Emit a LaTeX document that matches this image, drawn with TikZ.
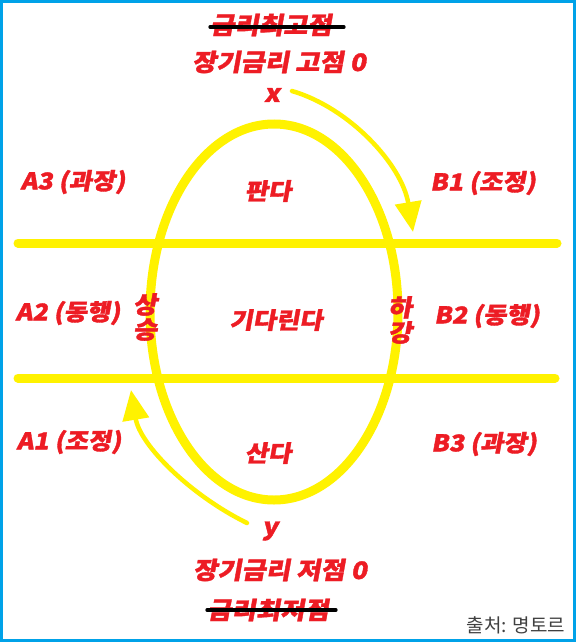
\documentclass[tikz,border=0pt]{standalone}
\usepackage{fontspec}
\usepackage{tikz}
\usetikzlibrary{arrows.meta}
\newfontfamily\krfont[FakeSlant=0.18,FakeStretch=1.1,FakeBold=1.5]{Noto Sans CJK KR Black}
\newfontfamily\srcfont{Noto Sans CJK KR}
\definecolor{penred}{RGB}{237,28,36}
\definecolor{marker}{RGB}{255,242,0}
\definecolor{frameblue}{RGB}{0,162,232}
\tikzset{
	lbl/.style={text=penred, font=\krfont\fontsize{23}{25}\selectfont, inner sep=0pt},
	big/.style={lbl, font=\krfont\fontsize{24}{26}\selectfont},
	hl/.style={draw=marker, line width=9pt, line cap=round},
	flow/.style={draw=marker, line width=4.5pt, line cap=round, -{Triangle[length=30pt,width=26pt]}},
	strike/.style={draw=black, line width=3.5pt, line cap=round}
}

\begin{document}
\begin{tikzpicture}[x=1pt, y=-1pt]
			\fill[white] (0,0) rectangle (576,642);
			\useasboundingbox (0,0) rectangle (576,642);
			\draw[frameblue, line width=3pt] (1.5,1.5) rectangle (574.5,640.5);
			\draw[hl] (274,312) ellipse (124 and 188);
			\draw[hl] (18,243) -- (557,243);
			\draw[hl] (18,378) -- (555,378);
			\node[big] (maxtop) at (271,25) {금리최고점};
			\node[big] (longtop) at (279,62) {장기금리 고점 0};
			\node[big] (xpt) at (272,95) {x};
			\node[big] (longbot) at (280,570) {장기금리 저점 0};
			\node[big] (ypt) at (270,531) {y};
			\node[big] (minbot) at (268,610) {금리최저점};
			\draw[strike] ([xshift=0pt, yshift=-2pt]maxtop.west) -- ([xshift=12pt, yshift=-2pt]maxtop.east);
			\draw[strike] ([xshift=0pt]minbot.west) -- ([xshift=7pt]minbot.east);
			\node[lbl] (a3) at (73,182) {A3 (과장)};
			\node[lbl] (a2) at (68,313) {A2 (동행)};
			\node[lbl] (a1) at (69,442) {A1 (조정)};
			\node[lbl] (b1) at (483,183) {B1 (조정)};
			\node[lbl] (b2) at (487,316) {B2 (동행)};
			\node[lbl] (b3) at (484,444) {B3 (과장)};
			\node[lbl] (sell) at (268,191) {판다};
			\node[lbl] (wait) at (276,320) {기다린다};
			\node[lbl] (buy) at (268,453) {산다};
			\node[lbl, align=center, font=\krfont\fontsize{24}{25}\selectfont] (rise) at (145,317) {상\\승};
			\node[lbl, align=center, font=\krfont\fontsize{24}{25}\selectfont] (fall) at (400,320) {하\\강};
			\node[inner sep=0pt, text=black!75, font=\srcfont\fontsize{19}{21}\selectfont] (src) at (516,625) {출처: 명토르};
			\coordinate (xs) at (292,91);
			\coordinate (xe) at (413,232);
			\coordinate (ys) at (247,523);
			\coordinate (ye) at (131,390);
			\draw[flow] (xs) .. controls (350,108) and (402,165) .. (xe);
			\draw[flow] (ys) .. controls (190,495) and (140,445) .. (ye);
\end{tikzpicture}
\end{document}
